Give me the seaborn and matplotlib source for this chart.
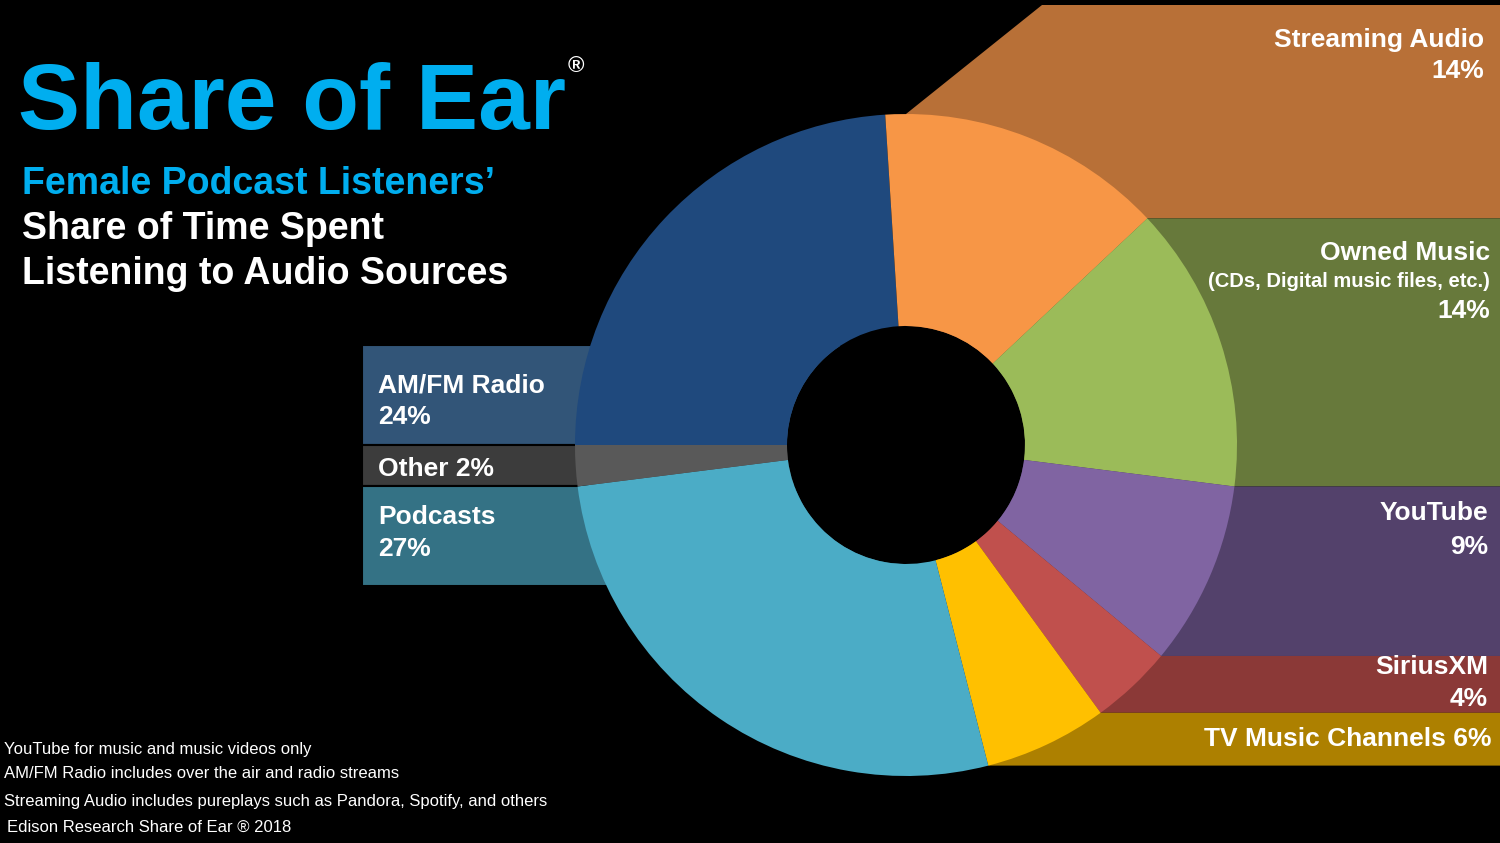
import matplotlib
matplotlib.use('Agg')
import numpy as np
import matplotlib.pyplot as plt
from matplotlib.patches import Polygon, Rectangle, Circle
import seaborn as sns

# share of time spent listening (%), clockwise starting at 9 o'clock
sources = ['AM/FM Radio', 'Streaming Audio', 'Owned Music', 'YouTube',
           'SiriusXM', 'TV Music Channels', 'Podcasts', 'Other']
shares = [24, 14, 14, 9, 4, 6, 27, 2]

slice_colors = ['#1F497D', '#F79646', '#9BBB59', '#8064A2',
                '#C0504D', '#FFC000', '#4BACC6', '#595959']
band_colors = ['#325578', '#B87037', '#67793B', '#53416B',
               '#8B3937', '#AD8000', '#347285', '#3C3C3C']

footnotes = ['YouTube for music and music videos only',
             'AM/FM Radio includes over the air and radio streams',
             'Streaming Audio includes pureplays such as Pandora, Spotify, and others',
             'Edison Research Share of Ear \u00ae 2018']

CYAN = '#00AEEF'

sns.set_style('dark', {'axes.facecolor': 'black', 'figure.facecolor': 'black'})
plt.rcParams['font.family'] = ['Liberation Sans', 'DejaVu Sans']

fig = plt.figure(figsize=(15, 8.43), dpi=100)
fig.patch.set_facecolor('black')
ax = fig.add_axes([0, 0, 1, 1])

cx, cy = 906, 445
R, r_in = 331, 119

# y axis is inverted below, so counterclock=True runs clockwise on screen
wedges, _ = ax.pie(shares, colors=sns.color_palette(slice_colors), startangle=180,
                   counterclock=True, radius=R, center=(cx, cy),
                   wedgeprops=dict(width=R - r_in, linewidth=0))
ax.set_xlim(0, 1500)
ax.set_ylim(843, 0)
ax.set_aspect('equal')
ax.axis('off')


def rim(theta):
    t = np.deg2rad(theta)
    return cx + R * np.cos(t), cy + R * np.sin(t)


# callout bands on the right
for i in range(1, 6):
    w = wedges[i]
    p1, p2 = rim(w.theta1), rim(w.theta2)
    if i == 1:
        pts = [(cx, cy), (cx, cy - R), (1042, 5), (1500, 5), (1500, p2[1]), p2]
    else:
        pts = [(cx, cy), p1, (1500, p1[1]), (1500, p2[1]), p2]
    ax.add_patch(Polygon(pts, closed=True, fc=band_colors[i], ec='none', zorder=0.5))

# callout bands on the left
y_mid = rim(wedges[0].theta1)[1]
y_other = rim(wedges[7].theta1)[1]
left_spans = {0: (y_mid - 100, y_mid), 7: (y_mid, y_other), 6: (y_other, y_other + 100)}
for i, (y0, y1) in left_spans.items():
    ax.add_patch(Rectangle((362, y0), cx - 362, y1 - y0, fc=band_colors[i],
                           ec='black', lw=1.5, zorder=0.5))

ax.add_patch(Circle((cx, cy), r_in, fc='black', ec='none', zorder=0.8))

# title block
ax.text(18, 129, 'Share of Ear', color=CYAN, fontsize=67, fontweight='bold')
ax.text(568, 72, '\u00ae', color='white', fontsize=16, fontweight='bold')
ax.text(22, 194, 'Female Podcast Listeners\u2019', color=CYAN, fontsize=27, fontweight='bold')
ax.text(22, 239, 'Share of Time Spent', color='white', fontsize=27, fontweight='bold')
ax.text(22, 284, 'Listening to Audio Sources', color='white', fontsize=27, fontweight='bold')

lbl = dict(color='white', fontsize=19, fontweight='bold')
pct = ['{}%'.format(s) for s in shares]

ax.text(1484, 46.5, sources[1], ha='right', **lbl)
ax.text(1484, 78.5, pct[1], ha='right', **lbl)
ax.text(1490, 260.5, sources[2], ha='right', **lbl)
ax.text(1490, 287, '(CDs, Digital music files, etc.)', ha='right', color='white',
        fontsize=14.5, fontweight='bold')
ax.text(1490, 318.5, pct[2], ha='right', **lbl)
ax.text(1488, 520.5, sources[3], ha='right', **lbl)
ax.text(1488, 553.5, pct[3], ha='right', **lbl)
ax.text(1488, 674.5, sources[4], ha='right', **lbl)
ax.text(1488, 706.5, pct[4], ha='right', **lbl)
ax.text(1492, 746.5, '{} {}'.format(sources[5], pct[5]), ha='right', **lbl)

ax.text(378, 392.5, sources[0], ha='left', **lbl)
ax.text(378, 424.5, pct[0], ha='left', **lbl)
ax.text(378, 475.5, '{} {}'.format(sources[7], pct[7]), ha='left', **lbl)
ax.text(378, 523.5, sources[6], ha='left', **lbl)
ax.text(378, 555.5, pct[6], ha='left', **lbl)

for (x, y), note in zip([(4, 754), (4, 778), (4, 806), (7, 832)], footnotes):
    ax.text(x, y, note, color='white', fontsize=12)

fig.savefig('out.png', dpi=100, facecolor='black')
